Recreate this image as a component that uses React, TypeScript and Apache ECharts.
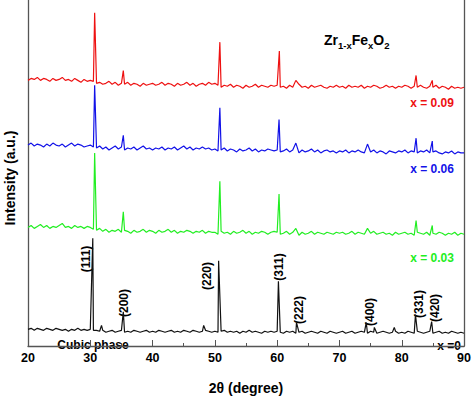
import React, { useEffect, useRef } from "react";
import * as echarts from "echarts";

// 2θ grid for the baseline readings (degrees)
const thetaStart = 20;
const thetaStep = 0.5;

// Baseline readings (intensity, a.u. with vertical offsets), one per 0.5° from 20 to 90
const baseRed = [
  271,273,272,274,271,273,272,270,273,271,272,274,271,272,270,273,271,269,272,270,
  271,270,268,269,267,268,270,267,269,266,268,267,269,266,268,267,265,268,266,267,
  268,266,267,269,266,268,267,265,268,266,267,269,266,268,265,267,268,266,269,267,
  268,266,264,266,265,267,264,266,265,263,266,264,265,267,264,266,265,264,266,265,
  266,264,265,263,266,264,265,267,264,265,263,266,264,265,266,264,263,265,264,266,
  264,265,263,266,264,265,264,266,263,265,264,266,265,263,264,266,264,265,263,265,
  264,266,265,263,265,264,266,264,263,265,264,266,263,265,264,262,265,263,264,263,
  264,
];
const baseBlue = [
  205,207,204,206,205,203,206,204,207,205,204,206,203,205,207,204,206,205,203,204,
  205,203,202,204,201,203,200,202,204,201,203,200,202,201,203,200,202,204,201,202,
  200,202,201,203,200,202,201,203,200,202,204,201,203,200,202,201,203,201,202,200,
  201,199,200,202,199,201,200,198,201,199,200,202,199,201,198,200,199,201,200,199,
  200,198,199,201,198,200,199,197,200,198,199,201,198,200,197,199,200,198,199,197,
  199,198,200,197,199,198,200,198,197,199,198,200,197,199,198,196,199,198,197,199,
  198,200,197,199,198,197,199,198,200,197,198,199,197,196,198,197,199,196,198,197,
  197,
];
const baseGreen = [
  121,123,120,122,124,121,123,120,122,121,123,125,121,122,120,123,121,122,120,122,
  121,119,118,120,117,119,116,118,117,119,116,118,117,115,118,116,117,119,116,118,
  117,115,118,116,117,119,116,118,115,117,116,118,117,115,117,116,118,115,117,116,
  116,114,117,115,116,114,117,115,116,118,115,117,114,116,115,117,116,114,116,117,
  116,114,115,117,114,116,115,113,116,114,115,117,114,116,115,114,116,115,114,116,
  115,116,114,115,117,114,116,115,114,116,115,117,114,115,116,114,115,113,116,114,
  115,116,114,115,113,116,115,114,116,113,115,114,116,115,113,115,114,116,113,115,
  114,
];
const baseBlack = [
  17,18,16,18,17,16,18,17,16,18,17,16,17,15,17,16,18,16,17,16,
  17,16,16,15,16,14,15,16,14,15,16,14,15,14,16,15,14,15,16,14,
  15,14,16,15,14,15,16,14,15,14,16,15,14,16,15,14,15,16,15,14,
  15,14,15,16,14,15,14,15,13,15,14,16,14,15,14,13,15,14,15,14,
  15,14,13,15,14,15,13,14,15,13,14,15,14,13,15,14,13,15,14,13,
  14,15,13,14,15,13,14,15,14,13,15,14,13,14,15,14,13,14,15,13,
  14,13,15,14,13,15,14,13,14,15,13,14,15,13,14,13,15,14,13,14,
  13,
];

// Diffraction peaks [2θ, intensity]
const peaksRed = [[30.7,340],[35.3,281],[50.8,310],[60.35,301],[63.0,271],[82.3,276],[84.9,271]];
const peaksBlue = [[30.7,266],[35.3,215],[50.8,243],[60.3,231],[63.0,207],[74.5,206],[82.3,212],[84.9,209]];
const peaksGreen = [[30.7,197],[35.3,137],[50.8,168],[60.3,155],[63.0,120],[74.5,120],[82.3,128],[84.9,123]];
const peaksBlack = [[30.4,110],[31.8,21],[35.3,35],[48.2,21],[50.6,87],[60.2,66],[63.1,24],[74.3,24],[75.6,19],[78.8,19],[82.2,32],[84.8,25]];

const seriesNames = ["x = 0.09", "x = 0.06", "x = 0.03", "x =0"];
const hklLabels = ["(111)", "(200)", "(220)", "(311)", "(222)", "(400)", "(331)", "(420)"];
const xTicks = [20, 30, 40, 50, 60, 70, 80, 90];
const formulaParts = [["Zr", "m"], ["1-x", "s"], ["Fe", "m"], ["x", "s"], ["O", "m"], ["2", "s"]];

function buildTrace(base: number[], peaks: number[][]) {
  const pts = base.map((v, i) => [thetaStart + i * thetaStep, v]);
  const kept = pts.filter((p) => !peaks.some((pk) => Math.abs(pk[0] - p[0]) < 0.05));
  return [...kept, ...peaks].sort((a, b) => a[0] - b[0]);
}

const RED = "#ee1111";
const BLUE = "#1212e8";
const GREEN = "#22ee22";
const BLACK = "#111111";
const FONT = "Liberation Sans, Arial, sans-serif";

export default function App() {
  const ref = useRef<HTMLDivElement>(null);
  useEffect(() => {
    if (!ref.current) return;
    const chart = echarts.init(ref.current, undefined, { renderer: "svg" });
    const mk = (name: string, data: number[][], color: string) => ({
      name,
      type: "line",
      data,
      showSymbol: false,
      symbol: "none",
      lineStyle: { color, width: 1.2 },
      itemStyle: { color },
    });
    const hklPos = [
      [86, 259], [124, 303], [207, 276], [279, 267], [299, 310], [370, 312], [419, 304], [435, 308],
    ];
    const txt = (text: string, x: number, y: number, color: string, size: number, rot = 0) => ({
      type: "text",
      x,
      y,
      rotation: rot,
      style: {
        text,
        fill: color,
        font: `bold ${size}px ${FONT}`,
        align: "center",
        verticalAlign: "middle",
      },
    });
    // formula text pieces laid out left to right
    const mainSize = 14;
    const subSize = 9.5;
    const widths: Record<string, number> = {
      Zr: 1.0, "1-x": 1.445, Fe: 1.167, x: 0.556, O: 0.778, "2": 0.556,
    };
    let fx = 324;
    const formula = formulaParts.map(([t, k]) => {
      const size = k === "m" ? mainSize : subSize;
      const el = {
        type: "text",
        x: fx,
        y: k === "m" ? 40 : 45,
        style: {
          text: t,
          fill: "#000",
          font: `bold ${size}px ${FONT}`,
          align: "left",
          verticalAlign: "middle",
        },
      };
      fx += widths[t] * size;
      return el;
    });
    chart.setOption({
      animation: false,
      grid: { left: 28, right: 6, top: 0, bottom: 47 },
      xAxis: {
        type: "value",
        min: xTicks[0],
        max: xTicks[xTicks.length - 1],
        interval: 10,
        axisLine: { show: true, lineStyle: { color: "#555", width: 1.3 } },
        axisTick: { show: true, inside: true, length: 6, lineStyle: { color: "#555" } },
        minorTick: { show: true, splitNumber: 2, length: 3, lineStyle: { color: "#555" } },
        splitLine: { show: false },
        axisLabel: { color: "#000", fontWeight: "bold", fontSize: 12.5, fontFamily: FONT, margin: 5 },
        name: "2θ (degree)",
        nameLocation: "middle",
        nameGap: 35,
        nameTextStyle: { color: "#000", fontWeight: "bold", fontSize: 14, fontFamily: FONT },
      },
      yAxis: [
        {
          type: "value",
          min: 0,
          max: 353,
          axisLine: { show: true, lineStyle: { color: "#555", width: 1.3 } },
          axisTick: { show: false },
          axisLabel: { show: false },
          splitLine: { show: false },
        },
        {
          type: "value",
          position: "right",
          min: 0,
          max: 353,
          axisLine: { show: true, lineStyle: { color: "#555", width: 1.3 } },
          axisTick: { show: false },
          axisLabel: { show: false },
          splitLine: { show: false },
        },
      ],
      series: [
        mk(seriesNames[3], buildTrace(baseBlack, peaksBlack), BLACK),
        mk(seriesNames[2], buildTrace(baseGreen, peaksGreen), GREEN),
        mk(seriesNames[1], buildTrace(baseBlue, peaksBlue), BLUE),
        mk(seriesNames[0], buildTrace(baseRed, peaksRed), RED),
      ],
      graphic: [
        txt("Intensity (a.u.)", 10, 178, "#000", 14, Math.PI / 2),
        txt(seriesNames[0], 432, 103, RED, 12),
        txt(seriesNames[1], 432, 169, BLUE, 12),
        txt(seriesNames[2], 432, 258, GREEN, 12),
        txt(seriesNames[3], 449, 346, "#000", 12),
        txt("Cubic phase", 93, 345, "#000", 12),
        ...hklLabels.map((h, i) => txt(h, hklPos[i][0], hklPos[i][1], "#000", 12, Math.PI / 2)),
        ...formula,
      ],
    });
    return () => chart.dispose();
  }, []);
  return (
    <div
      ref={ref}
      style={{ position: "fixed", left: 0, top: 0, width: 474, height: 400, background: "#fff" }}
    />
  );
}
